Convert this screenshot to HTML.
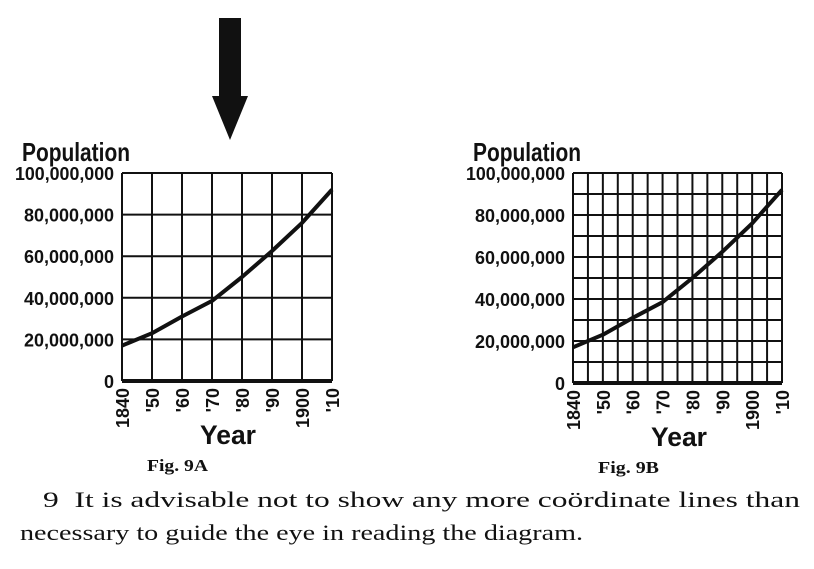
<!DOCTYPE html>
<html><head><meta charset="utf-8"><style>
body{margin:0;width:814px;height:569px;background:#fff;overflow:hidden}
svg{display:block}
.lab{font-family:"Liberation Sans",sans-serif;font-weight:bold;fill:#111}
.ser{font-family:"Liberation Serif",serif;fill:#111}
</style></head><body>
<svg id="s" width="814" height="569" viewBox="0 0 814 569">
<polygon points="219,18 241,18 241,96 248,96 230,140 212,96 219,96" fill="#111"/>
<text class="ser" x="43" y="507" font-size="22" textLength="757" lengthAdjust="spacingAndGlyphs">9&#160; It is advisable not to show any more coördinate lines than</text>
<text class="ser" x="20" y="540" font-size="22" textLength="563" lengthAdjust="spacingAndGlyphs">necessary to guide the eye in reading the diagram.</text>
</svg>
<script>
const years=[1840,1850,1860,1870,1880,1890,1900,1910];
const population=[17,23,31,38.5,50,62.5,76,92];
const yearLabels=["1840","'50","'60","'70","'80","'90","1900","'10"];
const yTicks=[0,20,40,60,80,100];
const yTickLabels=["0","20,000,000","40,000,000","60,000,000","80,000,000","100,000,000"];
const svg=document.getElementById('s');
const NS='http://www.w3.org/2000/svg';
function mk(t,a,p){const e=document.createElementNS(NS,t);for(const k in a)e.setAttribute(k,a[k]);(p||svg).appendChild(e);return e;}
function chart(L,R,T,B,xStep,yStep,fig,id){
  const g=mk('g',{});
  
  
  const xs=v=>L+(v-1840)/70*(R-L), ys=v=>B-v/100*(B-T);
  for(let v=1840;v<=1910;v+=xStep){const l=mk('line',{x1:xs(v),x2:xs(v),y1:T,y2:B,stroke:'#111','stroke-width':2},g);
    }
  for(let v=0;v<=100;v+=yStep){const l=mk('line',{x1:L,x2:R,y1:ys(v),y2:ys(v),stroke:'#111','stroke-width':v==0?4:2},g);
    }
  yTicks.forEach((v,i)=>{const t=mk('text',{x:L-8,y:ys(v)+7,'text-anchor':'end','font-size':18,class:'lab'},g);
    if(v!=0){t.setAttribute('textLength',v==100?99:90);t.setAttribute('lengthAdjust','spacingAndGlyphs');}
    t.textContent=yTickLabels[i];});
  years.forEach((v,i)=>{const x=xs(v);const t=mk('text',{x:0,y:0,'text-anchor':'end','font-size':18,class:'lab',transform:`translate(${x+7},${B+7}) rotate(-90)`},g);
    if(yearLabels[i].length==4){t.setAttribute('textLength',40);t.setAttribute('lengthAdjust','spacingAndGlyphs');}
    t.textContent=yearLabels[i];});
  const d=years.map((v,i)=>(i?'L':'M')+xs(v).toFixed(1)+','+ys(population[i]).toFixed(1)).join(' ');
  const p=mk('path',{d,fill:'none',stroke:'#111','stroke-width':4,'stroke-linejoin':'round'},g);
  
  const t1=mk('text',{x:L-100,y:T-12,'font-size':26,class:'lab',textLength:108,lengthAdjust:'spacingAndGlyphs'},g);
  t1.textContent='Population';
  const t2=mk('text',{x:L+78,y:B+63,'font-size':27,class:'lab',textLength:56,lengthAdjust:'spacingAndGlyphs'},g);
  t2.textContent='Year';
  const t3=mk('text',{x:L+25,y:B+90,'font-size':17,'font-weight':'bold',class:'ser',textLength:61,lengthAdjust:'spacingAndGlyphs'},g);
  t3.textContent=fig;
}
chart(122,332,173,381,10,20,'Fig. 9A','a');
chart(573,782,173,383,5,10,'Fig. 9B','b');
</script>
</body></html>
